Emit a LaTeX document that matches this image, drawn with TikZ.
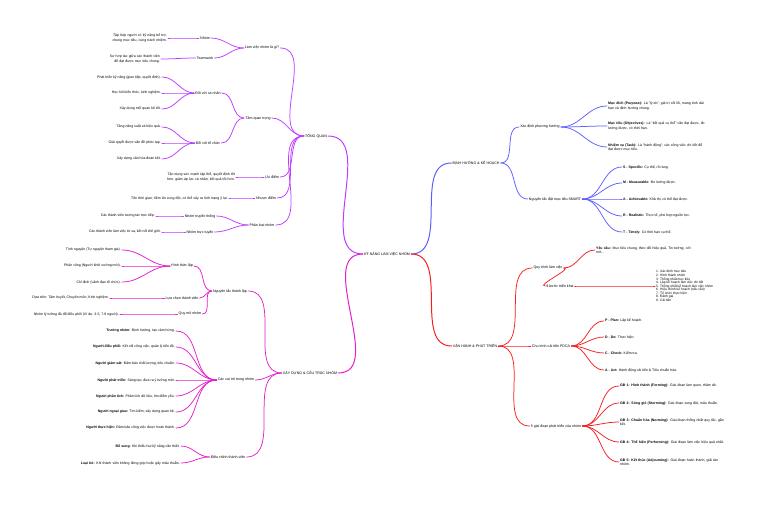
\documentclass[tikz,border=0pt]{standalone}
\usepackage{fontspec}
\setmainfont{Liberation Sans}
\usetikzlibrary{positioning}
\definecolor{MapViolet}{RGB}{190, 60, 255}
\definecolor{MapPink}{RGB}{228, 32, 205}
\definecolor{MapBlue}{RGB}{95, 95, 255}
\definecolor{MapRed}{RGB}{245, 30, 30}
\tikzset{
  topic/.style={font=\fontsize{3.6pt}{4.3pt}\selectfont, inner sep=1pt},
  leafL/.style={font=\fontsize{3.5pt}{4.2pt}\selectfont, anchor=east, align=right, inner sep=1pt},
  leafR/.style={font=\fontsize{3.5pt}{4.2pt}\selectfont, anchor=west, align=left, inner sep=1pt},
  link/.style={draw=#1, line width=0.75pt, line cap=round},
  mainlink/.style={draw=#1, line width=1pt, line cap=round},
}
\newcommand{\toL}[3][MapViolet]{\draw[link=#1] (#2.west) to[out=180,in=0] (#3.east);}
\newcommand{\toR}[3][MapBlue]{\draw[link=#1] (#2.east) to[out=0,in=180] (#3.west);}
\begin{document}
\begin{tikzpicture}[x=1bp, y=-1bp]
\useasboundingbox[fill=white] (0,0) rectangle (768,512);

% Root
\node[topic] (root) at (387,254) {KỸ NĂNG LÀM VIỆC NHÓM};

% ---------------- TỔNG QUAN
\node[topic] (tq) at (316,136) {TỔNG QUAN};
\node[topic] (tq1) at (262,48) {Làm việc nhóm là gì?};
\node[topic] (tq1a) at (205,38) {Nhóm};
\node[topic] (tq1b) at (205,58) {Teamwork};
\node[leafL, text width=98bp] (tq1a1) at (168,38) {Tập hợp người có kỹ năng bổ trợ, chung mục tiêu, cùng trách nhiệm.};
\node[leafL, text width=88bp] (tq1b1) at (161,59) {Sự hợp tác giữa các thành viên để đạt được mục tiêu chung.};
\node[topic] (tq2) at (258,118) {Tầm quan trọng};
\node[topic] (tq2a) at (208,93) {Đối với cá nhân};
\node[topic] (tq2b) at (208,143) {Đối với tổ chức};
\node[leafL] (tq2a1) at (162,77) {Phát triển kỹ năng (giao tiếp, quyết định).};
\node[leafL] (tq2a2) at (162,93) {Học hỏi kiến thức, kinh nghiệm.};
\node[leafL] (tq2a3) at (162,109) {Xây dựng mối quan hệ tốt.};
\node[leafL] (tq2b1) at (162,127) {Tăng năng suất và hiệu quả.};
\node[leafL] (tq2b2) at (162,143) {Giải quyết được vấn đề phức tạp.};
\node[leafL] (tq2b3) at (162,159) {Xây dựng văn hóa đoàn kết.};
\node[topic] (tq3) at (272,177) {Ưu điểm};
\node[leafL, text width=100bp] (tq31) at (236,177) {Tận dụng sức mạnh tập thể, quyết định tốt hơn, giảm áp lực cá nhân, kết quả tốt hơn.};
\node[topic] (tq4) at (266,198) {Nhược điểm};
\node[leafL, text width=105bp] (tq41) at (229,198) {Tốn thời gian, tiềm ẩn xung đột, có thể xảy ra tình trạng ỷ lại.};
\node[topic] (tq5) at (262,225) {Phân loại nhóm};
\node[topic] (tq5a) at (200,216) {Nhóm truyền thống};
\node[topic] (tq5b) at (200,232) {Nhóm trực tuyến};
\node[leafL] (tq5a1) at (156,216) {Các thành viên tương tác trực tiếp.};
\node[leafL] (tq5b1) at (162,232) {Các thành viên làm việc từ xa, kết nối thế giới.};

\draw[mainlink=MapViolet] (root.west) to[out=180,in=0] (tq.east);
\toL{tq}{tq1} \toL{tq}{tq2} \toL{tq}{tq3} \toL{tq}{tq4} \toL{tq}{tq5}
\toL{tq1}{tq1a} \toL{tq1}{tq1b} \toL{tq1a}{tq1a1} \toL{tq1b}{tq1b1}
\toL{tq2}{tq2a} \toL{tq2}{tq2b}
\toL{tq2a}{tq2a1} \toL{tq2a}{tq2a2} \toL{tq2a}{tq2a3}
\toL{tq2b}{tq2b1} \toL{tq2b}{tq2b2} \toL{tq2b}{tq2b3}
\toL{tq3}{tq31} \toL{tq4}{tq41}
\toL{tq5}{tq5a} \toL{tq5}{tq5b} \toL{tq5a}{tq5a1} \toL{tq5b}{tq5b1}

% ---------------- XÂY DỰNG & CẤU TRÚC NHÓM
\node[topic] (xd) at (310,373) {XÂY DỰNG \& CẤU TRÚC NHÓM};
\node[topic] (xd1) at (230,291) {Nguyên tắc thành lập};
\node[topic] (xd1a) at (182,266) {Hình thức lập};
\node[leafL] (xd1a1) at (122,250) {Tình nguyện (Tự nguyện tham gia).};
\node[leafL] (xd1a2) at (122,266) {Phân công (Người khởi xướng mời).};
\node[leafL] (xd1a3) at (122,282) {Chỉ định (Lãnh đạo tổ chức).};
\node[topic] (xd1b) at (182,298) {Lựa chọn thành viên};
\node[leafL] (xd1b1) at (110,298) {Dựa trên: Tâm huyết, Chuyên môn, Kinh nghiệm.};
\node[topic] (xd1c) at (190,314) {Quy mô nhóm};
\node[leafL] (xd1c1) at (120,314) {Nhóm lý tưởng đủ để điều phối (Ví dụ: 3-5, 7-9 người).};
\node[topic] (xd2) at (236,380) {Các vai trò trong nhóm};
\node[leafL] (xd2a) at (176,331) {\textbf{Trưởng nhóm:} Định hướng, tạo cảm hứng.};
\node[leafL] (xd2b) at (176,347) {\textbf{Người điều phối:} Kết nối công việc, quản lý tiến độ.};
\node[leafL] (xd2c) at (176,363) {\textbf{Người giám sát:} Đảm bảo chất lượng, tiêu chuẩn.};
\node[leafL] (xd2d) at (176,380) {\textbf{Người phát triển:} Sáng tạo, đưa ra ý tưởng mới.};
\node[leafL] (xd2e) at (176,396) {\textbf{Người phân tích:} Phân tích dữ liệu, tìm điểm yếu.};
\node[leafL] (xd2f) at (176,412) {\textbf{Người ngoại giao:} Tìm kiếm, xây dựng quan hệ.};
\node[leafL] (xd2g) at (176,428) {\textbf{Người thực hiện:} Đảm bảo công việc được hoàn thành.};
\node[topic] (xd3) at (228,457) {Điều chỉnh thành viên};
\node[leafL] (xd3a) at (181,446) {\textbf{Bổ sung:} Khi thiếu hụt kỹ năng cần thiết.};
\node[leafL, text width=100bp] (xd3b) at (181,463) {\textbf{Loại bỏ:} Khi thành viên không đóng góp hoặc gây mâu thuẫn.};

\draw[mainlink=MapPink] (root.west) to[out=180,in=0] (xd.east);
\toL[MapPink]{xd}{xd1} \toL[MapPink]{xd}{xd2} \toL[MapPink]{xd}{xd3}
\toL[MapPink]{xd1}{xd1a} \toL[MapPink]{xd1}{xd1b} \toL[MapPink]{xd1}{xd1c}
\toL[MapPink]{xd1a}{xd1a1} \toL[MapPink]{xd1a}{xd1a2} \toL[MapPink]{xd1a}{xd1a3}
\toL[MapPink]{xd1b}{xd1b1} \toL[MapPink]{xd1c}{xd1c1}
\foreach \r in {a,b,c,d,e,f,g} {\toL[MapPink]{xd2}{xd2\r}}
\toL[MapPink]{xd3}{xd3a} \toL[MapPink]{xd3}{xd3b}

% ---------------- ĐỊNH HƯỚNG & KẾ HOẠCH
\node[topic] (dh) at (476,163) {ĐỊNH HƯỚNG \& KẾ HOẠCH};
\node[topic] (dh1) at (540,127) {Xác định phương hướng};
\node[leafR, text width=100bp] (dh1a) at (607,106) {\textbf{Mục đích (Purpose):} Là "lý do", giá trị cốt lõi, mang tính dài hạn và định hướng chung.};
\node[leafR, text width=100bp] (dh1b) at (607,126) {\textbf{Mục tiêu (Objectives):} Là "kết quả cụ thể" cần đạt được, đo lường được, có thời hạn.};
\node[leafR, text width=100bp] (dh1c) at (607,147) {\textbf{Nhiệm vụ (Task):} Là "hành động", các công việc chi tiết để đạt được mục tiêu.};
\node[topic] (dh2) at (555,199) {Nguyên tắc đặt mục tiêu SMART};
\node[leafR] (dh2a) at (622,167) {\textbf{S - Specific:} Cụ thể, rõ ràng.};
\node[leafR] (dh2b) at (622,183) {\textbf{M - Measurable:} Đo lường được.};
\node[leafR] (dh2c) at (622,199) {\textbf{A - Achievable:} Khả thi, có thể đạt được.};
\node[leafR] (dh2d) at (622,216) {\textbf{R - Realistic:} Thực tế, phù hợp nguồn lực.};
\node[leafR] (dh2e) at (622,232) {\textbf{T - Timely:} Có thời hạn cụ thể.};

\draw[mainlink=MapBlue] (root.east) to[out=0,in=180] (dh.west);
\toR{dh}{dh1} \toR{dh}{dh2}
\toR{dh1}{dh1a} \toR{dh1}{dh1b} \toR{dh1}{dh1c}
\foreach \r in {a,b,c,d,e} {\toR{dh2}{dh2\r}}

% ---------------- VẬN HÀNH & PHÁT TRIỂN
\node[topic] (vh) at (475,346) {VẬN HÀNH \& PHÁT TRIỂN};
\node[topic] (vh1) at (548,268) {Quy trình làm việc};
\node[leafR, text width=95bp] (vh1a) at (595,250) {\textbf{Yêu cầu:} Mục tiêu chung, theo dõi hiệu quả, Tin tưởng, cởi mở...};
\node[topic] (vh1b) at (560,286) {9 bước triển khai};
\node[leafR, font=\fontsize{3.3pt}{3.6pt}\selectfont] (vh1b1) at (655,286) {1. Xác định mục tiêu\\2. Hình thành nhóm\\3. Thống nhất mục tiêu\\4. Lập kế hoạch làm việc chi tiết\\5. Thống nhất kế hoạch làm việc nhóm\\6. Hiệu chỉnh kế hoạch (nếu cần)\\7. Tổ chức thực hiện\\8. Đánh giá\\9. Cải tiến};
\node[topic] (vh2) at (551,346) {Chu trình cải tiến PDCA};
\node[leafR] (vh2a) at (604,321) {\textbf{P - Plan:} Lập kế hoạch.};
\node[leafR] (vh2b) at (604,337) {\textbf{D - Do:} Thực hiện.};
\node[leafR] (vh2c) at (604,353) {\textbf{C - Check:} Kiểm tra.};
\node[leafR] (vh2d) at (604,370) {\textbf{A - Act:} Hành động cải tiến \& Tiêu chuẩn hóa.};
\node[topic] (vh3) at (556,426) {5 giai đoạn phát triển của nhóm};
\node[leafR, text width=104bp] (vh3a) at (619,386) {\textbf{GĐ 1: Hình thành (Forming):} Giai đoạn làm quen, thăm dò.};
\node[leafR, text width=104bp] (vh3b) at (619,403) {\textbf{GĐ 2: Sóng gió (Storming):} Giai đoạn xung đột, mâu thuẫn.};
\node[leafR, text width=104bp] (vh3c) at (619,422) {\textbf{GĐ 3: Chuẩn hóa (Norming):} Giai đoạn thống nhất quy tắc, gắn kết.};
\node[leafR, text width=104bp] (vh3d) at (619,442) {\textbf{GĐ 4: Thể hiện (Performing):} Giai đoạn làm việc hiệu quả nhất.};
\node[leafR, text width=104bp] (vh3e) at (619,462) {\textbf{GĐ 5: Kết thúc (Adjourning):} Giai đoạn hoàn thành, giải tán nhóm.};

\draw[mainlink=MapRed] (root.east) to[out=0,in=180] (vh.west);
\toR[MapRed]{vh}{vh1} \toR[MapRed]{vh}{vh2} \toR[MapRed]{vh}{vh3}
\toR[MapRed]{vh1}{vh1a} \toR[MapRed]{vh1}{vh1b} \toR[MapRed]{vh1b}{vh1b1}
\foreach \r in {a,b,c,d} {\toR[MapRed]{vh2}{vh2\r}}
\foreach \r in {a,b,c,d,e} {\toR[MapRed]{vh3}{vh3\r}}
\end{tikzpicture}
\end{document}
